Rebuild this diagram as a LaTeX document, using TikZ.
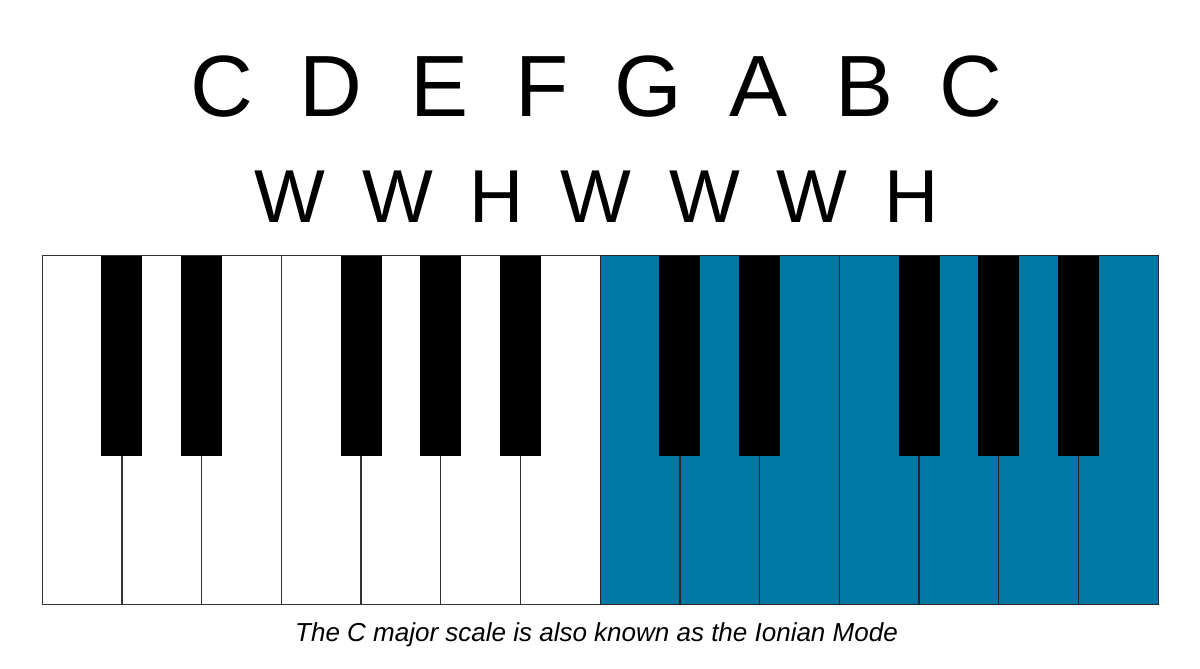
\documentclass[tikz,border=0pt]{standalone}
\usepackage{fontspec}
\setmainfont{Liberation Sans}
\usepackage{tikz}
\usetikzlibrary{positioning, calc}
\definecolor{ionianblue}{RGB}{0,119,164}
\tikzstyle{whitekey} = [rectangle, anchor=north west, minimum width=79.71pt, minimum height=348.8pt, inner sep=0pt, outer sep=0pt, draw=black!80, line width=1.2pt, fill=white]
\tikzstyle{bluekey} = [whitekey, fill=ionianblue, draw=black!85]
\tikzstyle{blackkey} = [rectangle, anchor=north, minimum width=41pt, minimum height=200.3pt, inner sep=0pt, outer sep=0pt, fill=black]
\tikzstyle{notename} = [anchor=base, inner sep=0pt, font=\fontsize{87}{90}\selectfont]
\tikzstyle{stepname} = [anchor=base, inner sep=0pt, font=\fontsize{75}{80}\selectfont]
\tikzstyle{caption} = [anchor=base, inner sep=0pt, font=\fontsize{26}{30}\selectfont\itshape]

\begin{document}
\begin{tikzpicture}[x=1pt, y=-1pt]
\useasboundingbox (0,0) rectangle (1200,669);
\fill[white] (0,0) rectangle (1200,669);

% note names
\node (noteC) [notename] at (221.5,117) {C};
\node (noteD) [notename] at (331,117) {D};
\node (noteE) [notename] at (440,117) {E};
\node (noteF) [notename] at (542,117) {F};
\node (noteG) [notename] at (648,117) {G};
\node (noteA) [notename] at (758.5,117) {A};
\node (noteB) [notename] at (864.5,117) {B};
\node (noteCC) [notename] at (970.5,117) {C};

% whole and half steps
\node (interval1) [stepname] at (290,222) {W};
\node (interval2) [stepname] at (398,222) {W};
\node (interval3) [stepname] at (497,222) {H};
\node (interval4) [stepname] at (596,222) {W};
\node (interval5) [stepname] at (704.5,222) {W};
\node (interval6) [stepname] at (812,222) {W};
\node (interval7) [stepname] at (911.5,222) {H};

% white keys
\node (key1) [whitekey] at (42.2,255.7) {};
\node (key2) [whitekey] at (121.9,255.7) {};
\node (key3) [whitekey] at (201.6,255.7) {};
\node (key4) [whitekey] at (281.3,255.7) {};
\node (key5) [whitekey] at (361.0,255.7) {};
\node (key6) [whitekey] at (440.8,255.7) {};
\node (key7) [whitekey] at (520.5,255.7) {};
\node (key8) [bluekey] at (600.2,255.7) {};
\node (key9) [bluekey] at (679.9,255.7) {};
\node (key10) [bluekey] at (759.6,255.7) {};
\node (key11) [bluekey] at (839.3,255.7) {};
\node (key12) [bluekey] at (919.0,255.7) {};
\node (key13) [bluekey] at (998.7,255.7) {};
\node (key14) [bluekey] at (1078.4,255.7) {};

% black keys
\node (sharp1) [blackkey] at (key1.north east) {};
\node (sharp2) [blackkey] at (key2.north east) {};
\node (sharp3) [blackkey] at (key4.north east) {};
\node (sharp4) [blackkey] at (key5.north east) {};
\node (sharp5) [blackkey] at (key6.north east) {};
\node (sharp6) [blackkey] at (key8.north east) {};
\node (sharp7) [blackkey] at (key9.north east) {};
\node (sharp8) [blackkey] at (key11.north east) {};
\node (sharp9) [blackkey] at (key12.north east) {};
\node (sharp10) [blackkey] at (key13.north east) {};

\node (caption) [caption] at (596.5,641) {The C major scale is also known as the Ionian Mode};

\end{tikzpicture}
\end{document}
